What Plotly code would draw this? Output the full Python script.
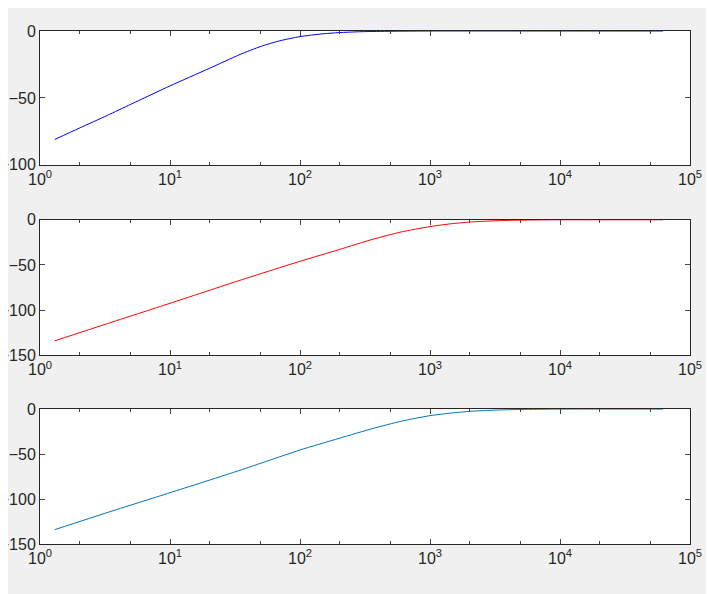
import plotly.graph_objects as go
from plotly.subplots import make_subplots

# frequencies and magnitudes
f1 = [1.3, 2, 3.3, 5, 10, 20, 34.6, 50, 70, 100, 150, 200, 300, 500, 1000, 10000, 62000]
y1 = [-81, -72.6, -63, -54.7, -41, -28, -17.5, -11.5, -7.3, -4.2, -2.1, -1.2, -0.5, -0.2, 0, 0, 0]

f2 = [1.3, 3.3, 10, 34.6, 100, 200, 365, 600, 1000, 1500, 2130, 3500, 5000, 10000, 62000]
y2 = [-134, -115, -92.5, -67, -46, -33, -21.5, -13.5, -7.5, -4.2, -2.3, -0.9, -0.4, 0, 0]

f3 = [1.3, 3.3, 10, 34.6, 100, 200, 365, 600, 1000, 1500, 2130, 3500, 5000, 10000, 62000]
y3 = [-134, -115, -93, -68, -45.5, -32.5, -21.5, -13.5, -7.3, -4.2, -2.3, -0.9, -0.4, 0, 0]

xticks = [1, 10, 100, 1000, 10000, 100000]
xticktext = ['10<sup>%d</sup>' % i for i in range(6)]

fig = make_subplots(rows=3, cols=1, vertical_spacing=0.1)
fig.add_trace(go.Scatter(x=f1, y=y1, mode='lines', line=dict(color='blue', width=1, shape='spline', smoothing=0.6)), 1, 1)
fig.add_trace(go.Scatter(x=f2, y=y2, mode='lines', line=dict(color='red', width=1, shape='spline', smoothing=0.6)), 2, 1)
fig.add_trace(go.Scatter(x=f3, y=y3, mode='lines', line=dict(color='#0072BD', width=1, shape='spline', smoothing=0.6)), 3, 1)

domains = [[0.739, 1], [0.368, 0.632], [0, 0.263]]
yranges = [[-100, 0], [-150, 0], [-150, 0]]
yticks = [[-100, -50, 0], [-150, -100, -50, 0], [-150, -100, -50, 0]]
for i in range(3):
    fig.update_xaxes(type='log', range=[0, 5], tickvals=xticks, ticktext=xticktext,
                     ticks='inside', ticklen=5, mirror='ticks', showline=True, linecolor='#262626',
                     showgrid=False, automargin=False,
                     minor=dict(ticks='inside', ticklen=3, showgrid=False),
                     row=i + 1, col=1)
    fig.update_yaxes(domain=domains[i], range=yranges[i], tickvals=yticks[i],
                     ticks='inside', ticklen=5, mirror='ticks', showline=True, linecolor='#262626',
                     showgrid=False, zeroline=False, automargin=False, row=i + 1, col=1)

# the page adds an 8px body margin, so margins are reduced by that much
fig.update_layout(width=714, height=594, margin=dict(l=32, r=32, t=23, b=58),
                  paper_bgcolor='#f0f0f0', plot_bgcolor='white', showlegend=False,
                  font=dict(family='Arial, Liberation Sans', size=16, color='#262626'))
fig.write_html("out.html")
